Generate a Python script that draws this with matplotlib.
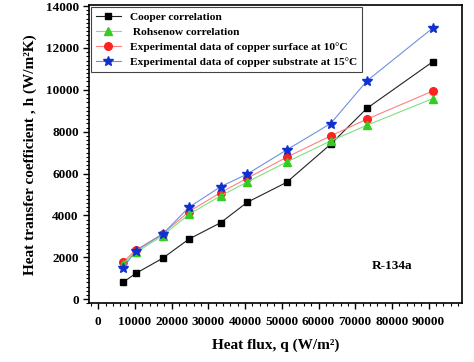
import numpy as np
import matplotlib
matplotlib.use("Agg")
import matplotlib.pyplot as plt
from matplotlib.ticker import MultipleLocator

# heat flux (W/m2)
q = [6700, 10200, 17500, 24700, 33300, 40600, 51300, 63300, 73200, 91100]

# heat transfer coefficient (W/m2K)
h_cooper = [800, 1230, 1950, 2870, 3650, 4630, 5580, 7400, 9120, 11340]
h_rohsenow = [1700, 2230, 3030, 4050, 4930, 5600, 6550, 7560, 8310, 9580]
h_exp_10 = [1770, 2340, 3120, 4180, 5090, 5780, 6780, 7800, 8600, 9940]
h_exp_15 = [1470, 2310, 3100, 4390, 5370, 5980, 7130, 8390, 10430, 12950]

labels = ['Cooper correlation',
          ' Rohsenow correlation',
          'Experimental data of copper surface at 10\u00b0C',
          'Experimental data of copper substrate at 15\u00b0C']

plt.rcParams['font.family'] = ['Liberation Serif', 'DejaVu Serif']
plt.rcParams['font.weight'] = 'bold'

fig = plt.figure(figsize=(4.74, 3.62), dpi=100)
ax = fig.add_axes([0.188, 0.162, 0.786, 0.824])

ax.plot(q, h_cooper, '-s', color='#222222', mfc='black', mec='black', ms=5, lw=0.8, label=labels[0], zorder=3)
ax.plot(q, h_exp_10, '-o', color='#ff8080', mfc='#ff2020', mec='#ff2020', ms=5.5, lw=0.8, label=labels[2], zorder=4)
ax.plot(q, h_rohsenow, '-^', color='#80e080', mfc='#33cc22', mec='#33cc22', ms=5.5, lw=0.8, label=labels[1], zorder=5)
ax.plot(q, h_exp_15, '-*', color='#7090e0', mfc='#1030d0', mec='#1030d0', ms=7, lw=0.8, label=labels[3], zorder=6)

ax.set_xlim(-2500, 99000)
ax.set_ylim(-200, 14050)
ax.xaxis.set_major_locator(MultipleLocator(10000))
ax.xaxis.set_minor_locator(MultipleLocator(2000))
ax.yaxis.set_major_locator(MultipleLocator(2000))
ax.yaxis.set_minor_locator(MultipleLocator(200))
ax.tick_params(axis='both', which='major', labelsize=9.5, direction='out', length=4, width=1)
ax.tick_params(axis='both', which='minor', direction='out', length=2, width=0.8)
ax.tick_params(axis='x', pad=5)
for lab in ax.get_xticklabels() + ax.get_yticklabels():
    lab.set_fontweight('bold')
for s in ax.spines.values():
    s.set_linewidth(1.2)

ax.set_xlabel('Heat flux, q (W/m\u00b2)', fontsize=11, fontweight='bold', labelpad=8)
ax.set_ylabel('Heat transfer coefficient , h (W/m\u00b2K)', fontsize=11, fontweight='bold', labelpad=6)

ax.text(80000, 1580, 'R-134a', fontsize=9.5, fontweight='bold', ha='center', va='center')

handles, labs = ax.get_legend_handles_labels()
order = [0, 2, 1, 3]
leg = ax.legend([handles[i] for i in order], [labs[i] for i in order],
                loc='upper left', prop={'weight': 'bold', 'size': 8.2},
                fancybox=False, edgecolor='#444444', framealpha=1,
                borderaxespad=0.15, handlelength=2.2, labelspacing=0.45, borderpad=0.45)
leg.get_frame().set_linewidth(0.8)

fig.savefig('out.png', dpi=100)
